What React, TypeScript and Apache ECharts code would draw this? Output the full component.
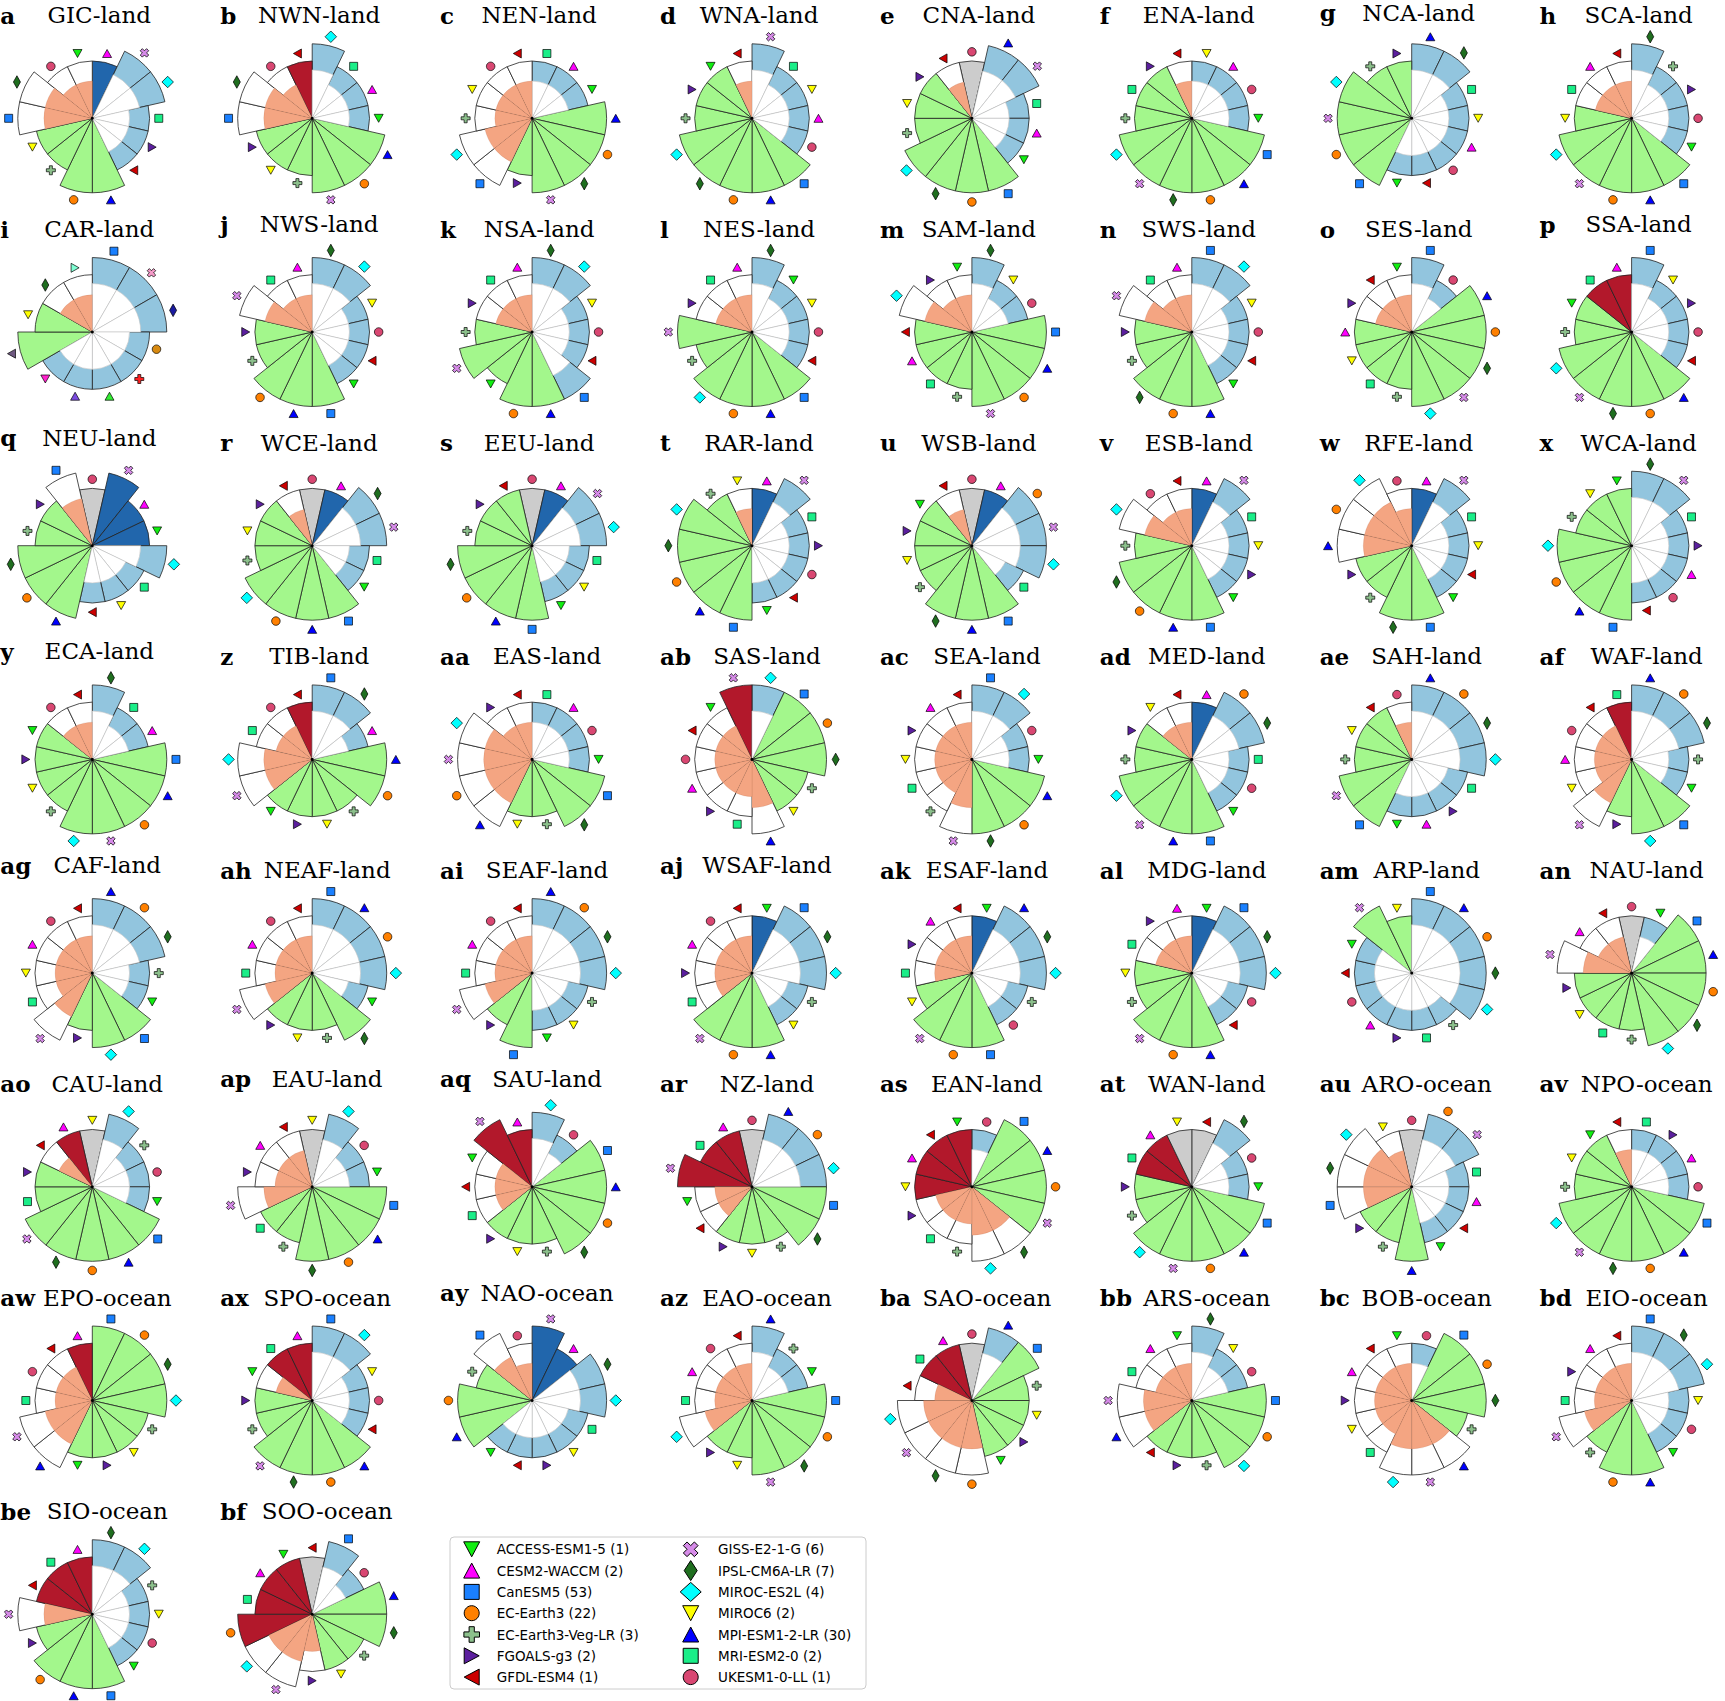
import React, { useEffect, useRef } from "react";
import * as echarts from "echarts";

// ---------------- data ----------------
const panelLetters = ["a","b","c","d","e","f","g","h","i","j","k","l","m","n","o","p","q","r","s","t","u","v","w","x","y","z","aa","ab","ac","ad","ae","af","ag","ah","ai","aj","ak","al","am","an","ao","ap","aq","ar","as","at","au","av","aw","ax","ay","az","ba","bb","bc","bd","be","bf"];
const regionNames = ["GIC-land","NWN-land","NEN-land","WNA-land","CNA-land","ENA-land","NCA-land","SCA-land","CAR-land","NWS-land","NSA-land","NES-land","SAM-land","SWS-land","SES-land","SSA-land","NEU-land","WCE-land","EEU-land","RAR-land","WSB-land","ESB-land","RFE-land","WCA-land","ECA-land","TIB-land","EAS-land","SAS-land","SEA-land","MED-land","SAH-land","WAF-land","CAF-land","NEAF-land","SEAF-land","WSAF-land","ESAF-land","MDG-land","ARP-land","NAU-land","CAU-land","EAU-land","SAU-land","NZ-land","EAN-land","WAN-land","ARO-ocean","NPO-ocean","EPO-ocean","SPO-ocean","NAO-ocean","EAO-ocean","SAO-ocean","ARS-ocean","BOB-ocean","EIO-ocean","SIO-ocean","SOO-ocean"];

// sector class, clockwise from north: B light-blue ring, D dark blue, G green, S salmon core, R dark red, Y grey
const sectorClasses = [
  "DBBBBBGGGGSSSS","BBBBGGGGGGSSSR","BBBGGGGGSSSSSS","BBBBBGGGGGGGGS","YBBBBBGGGGGGGS","BBBBGGGGGGGGGS","BBBBBBBBGGGGGG","BBBBBGGGGGGSSS",
  "BBBBBBBBGGSS","BBBBBBGGGGGSSS","BBBBBBGGGGGSSS","BBBBBGGGGGGSSS","BBBGGGGGGGGSSS","BBBBBBGGGGGSSS","BBGGGGGGGGGSSS","BBBBBGGGGGGGRR",
  "YDDDBBBBGGGGGS","YDBBBBGGGGGGGS","YDBBBBBGGGGGGG","DBBBBBBGGGGGGS","YDBBBBGGGGGGGS","DBBBBBGGGGGSSS","DBBBBBGGGGSSSS","BBBBBBBGGGGGGG",
  "BBBGGGGGGGGGSS","BBBGGGGGGSSSSR","BBBBGGGGSSSSSS","BGGGGGSSSSSSSR","BBBBGGGSSSSSSS","DBBBBBGGGGGGSS","BBBBBBBBGGGGGS","BBBBBGGGSSSSSR",
  "BBBBBGGGSSSSSS","BBBBBGGGGSSSSS","BBBBBBBGGSSSSS","DBBBBBGGGSSSSS","DBBBBBGGGGSSSS","DBBBBBGGGGGSSS","BBBBBBBBBBBBGG","YBGGGGGGGGGSSS",
  "YBBBBGGGGGGGSR","YBBBGGGGGGSSSS","BBGGGGGGGSSSRR","YBBBGGGGGSSRRR","BGGGGSSSSSRRRR","YBBBGGGGGGGRRY","YBBBBBBGGGSSSS","BBBBGGGGGGGGGS",
  "GGGGGGGGSSSSSR","BBBBBGGGGGGSRR","DDBBBBBBBGGGSS","BBBGGGGGGSSSSS","YBGGGGGSSSSSRR","BBBGGGGGGSSSSS","BGGGGSSSSSSSSS","BBBBBBGGGSSSSS",
  "BBBBBBGGGGSRRR","YBBGGGGSSSRRRR"
];
// 1 = sector drawn to the extended radius
const sectorExtended = [
  "01100011001100","10001110001100","00011110110000","10000111110000","01100011110000","00001111110000","11000000111100","10000111110000",
  "111000001000","11000011100100","11000111010000","10000111101000","10011110000100","11000011100100","10111110000000","10000111110000",
  "01001000111001","00110011110000","00110001111000","01000001111100","00111011100000","01000011110100","01000011001110","11000001111000",
  "10011111000000","11011000011000","00001100111100","11110010000001","11001111000000","01100011110000","11110000110000","11100110100000",
  "11100110100000","11110100010000","11110001010000","01110011100000","01110011100000","01110011100000","11111000000010","00111110000100",
  "01000111110000","01001111001000","10111100000010","01111100000100","01111110000000","01001111100000","01100001001110","00001111110000",
  "11110000110000","11000111100000","10110000011010","10011110010000","01100001111000","10011100011000","01110111000000","11100011010000",
  "11000011101000","01011000111000"
];
// model of each sector (see markerStyles)
const sectorModels = [
  "CSMRFGPEVNKIUA","MRCAPESVNFKIUG","RCAPEISFKMVNUG","SRNCUKPEIMVFAG","UPSRCAKEIMVNFG","NCUAKPEISMVRFG","PIRNCUGAKESMVF","IVFUAKPESMNRCG",
  "KabcdefghNIi","IMNUGAKPEVFSRC","IMNUGKPEASVFRC","IANUGKPEMVSFRC","INUKPESVRCGMFA","KMNUGAPEIVFSRC","KUPEISMVRNCFGA","KNFUGPEISMVARC",
  "USCAMRNGPEIVFK","UCISRAKPEMVNFG","UCSMRNAKPEIVFG","CSRFUGAKPEIMVN","UCESMRKPIVNFAG","CSRNFAKPEIVMUG","CSRNGAKIVFPEMU","ISRFCUGKPEMVNA",
  "IRCKPESMVNFAUG","KICPEVNFASMRUG","RCUAKIVNPESMFG","MKEIVNPRFCUGAS","KMUAPEISVRNFCG","CEIRUAKPSMVFNG","PEIMRFCAKSVNGU","PEIVAKMFSNCUGR",
  "PEIVAKMFSRNCUG","KPEMAIVNFSRCUG","PEIMVNAKFSRCUG","AKIMVNPESRFCUG","APIMVUKESNRFCG","AKIMUGPESVNRFC","KPEIMVRFCUGASN","UAKPEIMVRNFSCG",
  "NMVUAKPEISRFGC","NMUAKPEIVRSFCG","MUKPEIVNFRGASC","UPEMKIVNFGASRC","UKPESIMVRFNCGA","GIUAKPESMVFRCN","UESRCGAPVFKIMN","RFCUKPEISMVNAG",
  "KEIMVNFAPSRUGC","KMNUGPEISVFARC","SCIMRNFGAPEVKU","PVAKEISNFMRCUG","UPKVNFAEISMGRC","INUKEMVFGPSRCA","UKEIVPSMRNFCGA","KIMNUAPEVSRFCG",
  "IMVNUAKPEFSGRC","GKUPIVNFSMERCA"
];
// 1 = first sector centred on north instead of starting at north
const sectorOffset = [0,0,0,0,1,0,0,0, 0,0,0,0,0,0,0,0, 1,1,1,0,1,0,0,0, 0,0,0,0,0,0,0,0, 0,0,0,0,0,0,0,1, 1,1,0,1,0,0,1,0, 0,0,0,0,1,0,0,0, 0,1];

const legendCodesLeft = ["A","C","K","E","V","F","G"];
const legendNamesLeft = ["ACCESS-ESM1-5 (1)","CESM2-WACCM (2)","CanESM5 (53)","EC-Earth3 (22)","EC-Earth3-Veg-LR (3)","FGOALS-g3 (2)","GFDL-ESM4 (1)"];
const legendCodesRight = ["S","I","M","N","P","R","U"];
const legendNamesRight = ["GISS-E2-1-G (6)","IPSL-CM6A-LR (7)","MIROC-ES2L (4)","MIROC6 (2)","MPI-ESM1-2-LR (30)","MRI-ESM2-0 (2)","UKESM1-0-LL (1)"];

// ---------------- styles ----------------
const markerStyles: Record<string, { shape: string; color: string }> = {
  A: { shape: "tdown", color: "#11ee11" },
  C: { shape: "tup", color: "#ff00ff" },
  K: { shape: "square", color: "#1a80ff" },
  E: { shape: "circle", color: "#ff8000" },
  V: { shape: "plus", color: "#8cc08c" },
  F: { shape: "tright", color: "#5b1f9e" },
  G: { shape: "tleft", color: "#cc0000" },
  S: { shape: "x", color: "#d68be8" },
  I: { shape: "dthin", color: "#1f6e1f" },
  M: { shape: "diamond", color: "#00ffff" },
  N: { shape: "tdown", color: "#ffff00" },
  P: { shape: "tup", color: "#0000ff" },
  R: { shape: "square", color: "#1aee88" },
  U: { shape: "circle", color: "#d94772" },
  a: { shape: "x", color: "#f59ac8" },
  b: { shape: "dthin", color: "#1a1aa0" },
  c: { shape: "circle", color: "#d88a10" },
  d: { shape: "plus", color: "#ff2020" },
  e: { shape: "tup", color: "#33ee33" },
  f: { shape: "tup", color: "#7b4ce0" },
  g: { shape: "tdown", color: "#ff22cc" },
  h: { shape: "tleft", color: "#6e5880" },
  i: { shape: "tright", color: "#7fffd4" },
};
const classColor: Record<string, string> = {
  B: "#92c5de", D: "#2166ac", G: "#a3f78c", S: "#ffffff", R: "#b2182b", Y: "#cccccc",
};
const SALMON = "#f4a582";

const COL_X0 = 92.3, COL_DX = 219.9, ROW_Y0 = 118.3, ROW_DY = 213.7;
const R_PX = 57.3;
const R_MAX = 1.6;
const BASE_R = 1, EXT_R = 1.3, INNER_FRAC = 0.65, MARK_GAP = 0.16;
const PLUS_PATH = "path://M3,0L6,0L6,3L9,3L9,6L6,6L6,9L3,9L3,6L0,6L0,3L3,3Z";

function symbolFor(shape: string) {
  switch (shape) {
    case "tup": return { symbol: "triangle", symbolSize: [9, 8], symbolRotate: 0 };
    case "tdown": return { symbol: "triangle", symbolSize: [9, 8], symbolRotate: 180 };
    case "tleft": return { symbol: "triangle", symbolSize: [9, 8], symbolRotate: 90 };
    case "tright": return { symbol: "triangle", symbolSize: [9, 8], symbolRotate: -90 };
    case "square": return { symbol: "rect", symbolSize: 8, symbolRotate: 0 };
    case "circle": return { symbol: "circle", symbolSize: 8.5, symbolRotate: 0 };
    case "plus": return { symbol: PLUS_PATH, symbolSize: 9, symbolRotate: 0 };
    case "x": return { symbol: PLUS_PATH, symbolSize: 9, symbolRotate: 45 };
    case "dthin": return { symbol: "diamond", symbolSize: [7, 12.5], symbolRotate: 0 };
    default: return { symbol: "diamond", symbolSize: [11.5, 11.5], symbolRotate: 0 };
  }
}

function legendMarker(shape: string, color: string, x: number, y: number): any {
  const style = { fill: color, stroke: "#000", lineWidth: 1 };
  let pts: number[][] = [];
  const h = 7.5;
  switch (shape) {
    case "square": return { type: "rect", silent: true, shape: { x: x - h, y: y - h, width: 2 * h, height: 2 * h }, style };
    case "circle": return { type: "circle", silent: true, shape: { cx: x, cy: y, r: h }, style };
    case "tup": pts = [[x, y - h], [x + 8, y + h], [x - 8, y + h]]; break;
    case "tdown": pts = [[x - 8, y - h], [x + 8, y - h], [x, y + h]]; break;
    case "tleft": pts = [[x - h, y], [x + h, y - 8], [x + h, y + 8]]; break;
    case "tright": pts = [[x + h, y], [x - h, y - 8], [x - h, y + 8]]; break;
    case "dthin": pts = [[x, y - 10], [x + 6.5, y], [x, y + 10], [x - 6.5, y]]; break;
    case "diamond": pts = [[x, y - 9.5], [x + 10.5, y], [x, y + 9.5], [x - 10.5, y]]; break;
    case "plus":
    case "x": {
      const a = 2.6, b = 7.8;
      const base = [[-a, -b], [a, -b], [a, -a], [b, -a], [b, a], [a, a], [a, b], [-a, b], [-a, a], [-b, a], [-b, -a], [-a, -a]];
      const ang = shape === "x" ? Math.PI / 4 : 0;
      const c = Math.cos(ang), s = Math.sin(ang);
      pts = base.map(([px, py]) => [x + px * c - py * s, y + px * s + py * c]);
      break;
    }
  }
  return { type: "polygon", silent: true, shape: { points: pts }, style };
}

function buildOption() {
  const polar: any[] = [];
  const angleAxis: any[] = [];
  const radiusAxis: any[] = [];
  const series: any[] = [];
  const graphics: any[] = [];

  panelLetters.forEach((letter, k) => {
    const col = k % 8, row = Math.floor(k / 8);
    const cx = COL_X0 + col * COL_DX;
    const cy = ROW_Y0 + row * ROW_DY;
    const classes = sectorClasses[k].split("");
    const models = sectorModels[k].split("");
    const ext = sectorExtended[k].split("");
    const n = classes.length;
    const outer = ext.map((e) => (e === "1" ? EXT_R : BASE_R));

    polar.push({ center: [cx, cy], radius: R_MAX * R_PX });
    angleAxis.push({
      polarIndex: k, type: "category", data: models.map((m, i) => m + i),
      startAngle: 90 + (sectorOffset[k] ? 180 / n : 0), clockwise: true, boundaryGap: true,
      axisLine: { show: false }, axisTick: { show: false }, axisLabel: { show: false },
      splitLine: { show: false }, splitArea: { show: false },
    });
    radiusAxis.push({
      polarIndex: k, type: "value", min: 0, max: R_MAX,
      axisLine: { show: false }, axisTick: { show: false }, axisLabel: { show: false },
      splitLine: { show: false }, splitArea: { show: false },
    });

    series.push({
      type: "bar", coordinateSystem: "polar", polarIndex: k, silent: true, z: 2,
      barCategoryGap: "0%", barGap: "-100%",
      itemStyle: { borderColor: "#222", borderWidth: 0.8 },
      data: classes.map((c, i) => ({ value: outer[i], itemStyle: { color: classColor[c] } })),
    });
    series.push({
      type: "bar", coordinateSystem: "polar", polarIndex: k, silent: true, z: 3,
      barCategoryGap: "0%", barGap: "-100%",
      data: classes.map((c, i) => {
        if (c === "B") return { value: outer[i] * INNER_FRAC, itemStyle: { color: "#ffffff", borderColor: "#c4c4c4", borderWidth: 0.6 } };
        if (c === "S") return { value: outer[i] * INNER_FRAC, itemStyle: { color: SALMON, borderColor: "rgba(120,60,30,0.18)", borderWidth: 0.6 } };
        return "-";
      }),
    });
    series.push({
      type: "scatter", coordinateSystem: "polar", polarIndex: k, silent: true, z: 5,
      data: models.map((m, i) => {
        const st = markerStyles[m];
        const sym = symbolFor(st.shape);
        return {
          value: [outer[i] + MARK_GAP, i],
          symbol: sym.symbol, symbolSize: sym.symbolSize, symbolRotate: sym.symbolRotate,
          itemStyle: { color: st.color, borderColor: "#000", borderWidth: 0.7, opacity: 1 },
        };
      }).concat([{ value: [0, 0], symbol: "circle", symbolSize: 3, symbolRotate: 0, itemStyle: { color: "#000", borderColor: "#000", borderWidth: 0, opacity: 1 } } as any]),
    });

    const raise = /[gjpqy]/.test(letter) ? (row === 0 ? 2.5 : 5) : 0;
    const ty = cy - 103 - raise;
    graphics.push({
      type: "text", silent: true, x: cx - 92, y: ty,
      style: { text: letter, fontFamily: "DejaVu Serif", fontWeight: "bold", fontSize: 23, fill: "#000", align: "left", verticalAlign: "middle", textAlign: "left", textVerticalAlign: "middle" },
    });
    graphics.push({
      type: "text", silent: true, x: cx + (letter.length > 1 ? 15 : 7), y: ty,
      style: { text: regionNames[k], fontFamily: "DejaVu Serif", fontSize: 23, fill: "#000", align: "center", verticalAlign: "middle", textAlign: "center", textVerticalAlign: "middle" },
    });
  });

  // legend
  graphics.push({
    type: "rect", silent: true, shape: { x: 450, y: 1537, width: 416, height: 152, r: 4 },
    style: { fill: "#ffffff", stroke: "#cccccc", lineWidth: 1 },
  });
  const addCol = (codes: string[], names: string[], mx: number, tx: number) => {
    codes.forEach((code, i) => {
      const y = 1549.3 + i * 21.3;
      const st = markerStyles[code];
      graphics.push(legendMarker(st.shape, st.color, mx, y));
      graphics.push({
        type: "text", silent: true, x: tx, y,
        style: { text: names[i], fontFamily: "DejaVu Sans", fontSize: 13.5, fill: "#000", align: "left", verticalAlign: "middle", textAlign: "left", textVerticalAlign: "middle" },
      });
    });
  };
  addCol(legendCodesLeft, legendNamesLeft, 471.7, 496.7);
  addCol(legendCodesRight, legendNamesRight, 690.7, 718);

  return {
    animation: false,
    backgroundColor: "#ffffff",
    polar, angleAxis, radiusAxis, series,
    graphic: { elements: graphics },
  };
}

export default function App() {
  const ref = useRef<HTMLDivElement>(null);
  useEffect(() => {
    document.body.style.margin = "0";
    const chart = echarts.init(ref.current as HTMLDivElement, undefined, { renderer: "svg" });
    chart.setOption(buildOption() as any);
    return () => chart.dispose();
  }, []);
  return <div ref={ref} style={{ width: 1725, height: 1701 }} />;
}
